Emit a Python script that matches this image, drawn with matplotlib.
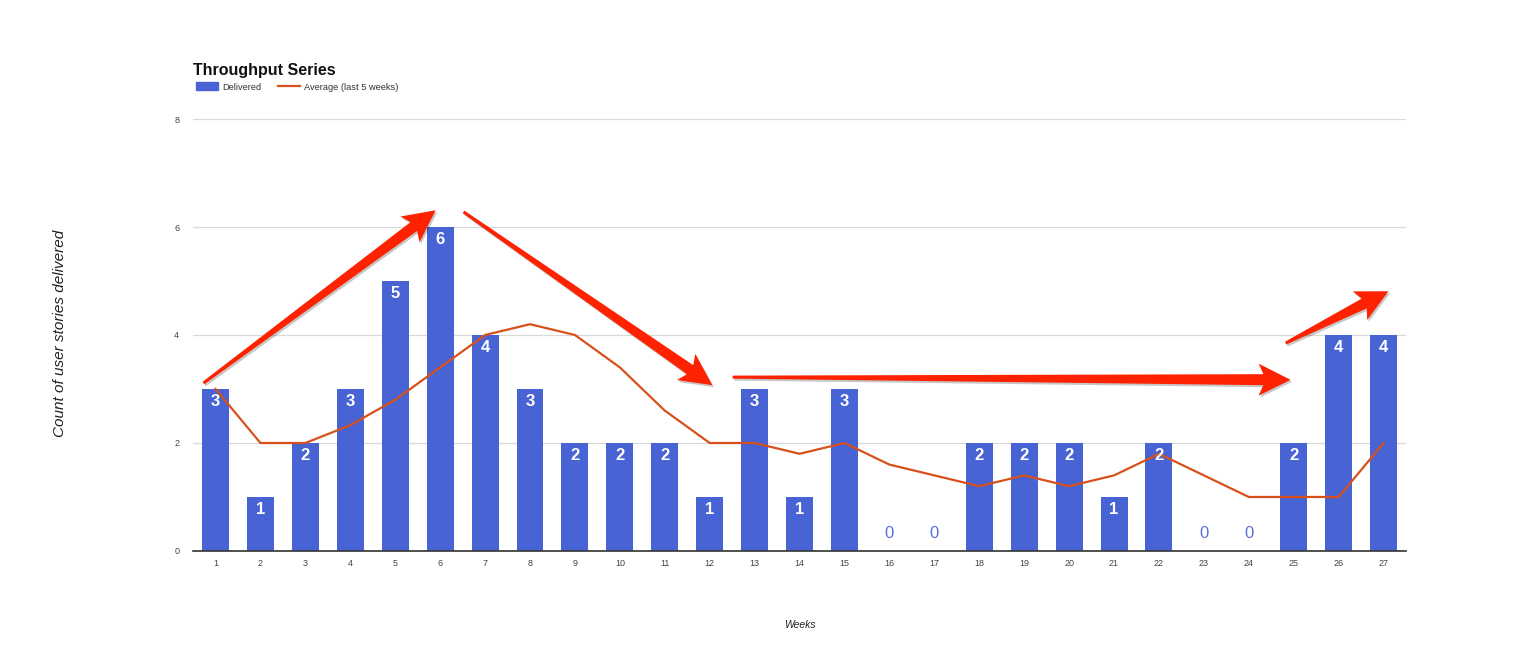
import numpy as np
import matplotlib.pyplot as plt
from matplotlib.patches import Patch, Polygon
from matplotlib.lines import Line2D
from matplotlib.transforms import IdentityTransform

plt.rcParams['font.family'] = ['Liberation Sans', 'DejaVu Sans']

weeks = list(range(1, 28))
delivered = [3, 1, 2, 3, 5, 6, 4, 3, 2, 2, 2, 1, 3, 1, 3, 0, 0, 2, 2, 2, 1, 2, 0, 0, 2, 4, 4]
average = [3.0, 2.0, 2.0, 2.33, 2.8, 3.4, 4.0, 4.2, 4.0, 3.4, 2.6, 2.0, 2.0, 1.8,
           2.0, 1.6, 1.4, 1.2, 1.4, 1.2, 1.4, 1.8, 1.4, 1.0, 1.0, 1.0, 2.0]

# arrows drawn over the chart (tail x, tail y, head x, head y)
arrows = [(0.73, 3.11, 5.9, 6.31),
          (6.52, 6.28, 12.06, 3.07),
          (12.51, 3.22, 24.93, 3.17),
          (24.82, 3.85, 27.11, 4.81)]

bar_color = "#4863d4"
line_color = "#d8501a"

fig = plt.figure(figsize=(15.36, 6.55), dpi=100)
ax = fig.add_axes([0.1257, 0.1588, 0.7897, 0.6595])

ax.bar(weeks, delivered, width=0.6, color=bar_color, zorder=2)
ax.plot(weeks, average, color=line_color, lw=1.6, zorder=3)

for x, v in zip(weeks, delivered):
    if v > 0:
        ax.text(x, v - 0.1, str(v), ha="center", va="top", color="white",
                fontsize=12, fontweight="bold", zorder=4)
    else:
        ax.text(x, 0.18, "0", ha="center", va="bottom", color="#5b6fd8",
                fontsize=12, zorder=4)

ax.set_xlim(0.5, 27.5)
ax.set_ylim(0, 8)
ax.set_yticks([0, 2, 4, 6, 8])
ax.set_xticks(weeks)
ax.grid(axis="y", color="#d9d9d9", lw=0.9, zorder=0)
ax.set_axisbelow(True)
for s in ["top", "right", "left"]:
    ax.spines[s].set_visible(False)
ax.spines["bottom"].set_color("#333333")
ax.spines["bottom"].set_linewidth(1.2)
ax.tick_params(axis="both", length=0, labelsize=6.5, colors="#444444")
ax.tick_params(axis="x", pad=6)
ax.tick_params(axis="y", pad=10)


def tapered_arrow(x0, y0, x1, y1, w0=3, w1=11, hw=32, hl=32):
    p0 = ax.transData.transform((x0, y0))
    p1 = ax.transData.transform((x1, y1))
    d = p1 - p0
    L = np.hypot(*d)
    u = d / L
    n = np.array([-u[1], u[0]])
    base = L - hl * 0.85
    pts = [p0 + n * w0 / 2,
           p0 + u * base + n * w1 / 2,
           p0 + u * (L - hl) + n * hw / 2,
           p1,
           p0 + u * (L - hl) - n * hw / 2,
           p0 + u * base - n * w1 / 2,
           p0 - n * w0 / 2]
    pts = np.array(pts)
    shadow = Polygon(pts + np.array([1.5, -2.0]), closed=True, transform=IdentityTransform(),
                     facecolor="#000000", alpha=0.22, lw=0, zorder=5)
    arrow = Polygon(pts, closed=True, transform=IdentityTransform(),
                    facecolor="#ff2200", lw=0, zorder=6)
    fig.add_artist(shadow)
    fig.add_artist(arrow)


for x0, y0, x1, y1 in arrows:
    tapered_arrow(x0, y0, x1, y1)

fig.text(193 / 1536, 1 - 70 / 655, "Throughput Series", fontsize=11.5, fontweight="bold",
         ha="left", va="center", color="#111111")
handles = [Patch(color=bar_color), Line2D([], [], color=line_color, lw=1.6)]
fig.legend(handles, ["Delivered", "Average (last 5 weeks)"], loc="center left",
           bbox_to_anchor=(188 / 1536, 1 - 87 / 655), ncol=2, frameon=False,
           fontsize=6.7, handlelength=2.3, handleheight=0.9, columnspacing=1.8,
           handletextpad=0.5, labelcolor="#333333")

fig.text(60 / 1536, 1 - 333 / 655, "Count of user stories delivered", rotation=90,
         style="italic", fontsize=11, ha="center", va="center", color="#222222")
fig.text(800 / 1536, 1 - 625 / 655, "Weeks", style="italic", fontsize=7.5,
         ha="center", va="center", color="#222222")

fig.savefig("out.png", dpi=100)
